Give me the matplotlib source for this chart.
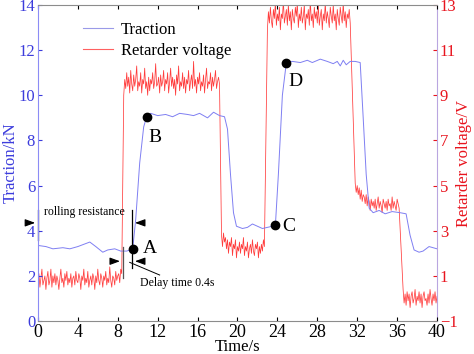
import numpy as np
import matplotlib
matplotlib.use("Agg")
import matplotlib.pyplot as plt
from matplotlib.lines import Line2D

plt.rcParams['font.family'] = ['Liberation Serif', 'DejaVu Serif']

# ---- traction (left axis, kN) ----
trac_t = [0, 0.8, 1.5, 2.5, 3.2, 4.0, 4.6, 5.2, 5.8, 6.5, 7.0, 7.7, 8.3, 8.9, 9.5,
          9.8, 10.2, 10.6, 10.9, 11.3, 12.0, 12.8, 13.5, 14.2, 15.0, 15.6, 16.2, 17.0,
          17.6, 18.2, 18.7, 19.0, 19.3, 19.6, 19.9, 20.5, 21.0, 21.5, 22.0, 22.5, 23.0,
          23.5, 23.8, 24.1, 24.5, 24.9, 25.5, 26.3, 27.0, 27.5, 28.3, 29.0, 29.6, 30.0,
          30.3, 30.6, 30.9, 31.3, 31.8, 32.3, 32.6, 32.9, 33.2, 33.6, 34.2, 34.8, 35.5,
          36.3, 36.9, 37.3, 37.7, 38.2, 38.6, 39.2, 39.6, 40.0]
trac_v = [3.35, 3.3, 3.2, 3.25, 3.2, 3.3, 3.4, 3.5, 3.3, 3.05, 3.15, 3.2, 3.1, 3.1, 3.2,
          4.5, 7.0, 8.6, 9.05, 9.2, 9.1, 9.15, 9.05, 9.2, 9.15, 9.1, 9.2, 9.0,
          9.25, 9.1, 9.05, 8.5, 6.5, 4.8, 4.2, 4.1, 4.15, 4.3, 4.2, 4.1, 4.15,
          4.2, 4.25, 6.5, 10.0, 11.45, 11.5, 11.45, 11.55, 11.45, 11.6, 11.5, 11.4, 11.5,
          11.3, 11.55, 11.35, 11.5, 11.5, 11.45, 9.0, 6.5, 5.0, 4.8, 4.9, 4.75, 4.85,
          4.8, 4.75, 3.8, 3.15, 3.05, 3.1, 3.3, 3.25, 3.2]

# ---- retarder voltage (right axis, V), segments (start, end, values) ----
red_seg1 = (0.0, 8.4, [0.7, 1.1, 0.5, 0.9, 1.3, 0.6, 0.8, 1.0, 0.4, 0.9,
                       1.2, 0.6, 0.8, 1.3, 0.5, 1.0, 0.7, 1.1, 0.6, 1.0,
                       0.8, 0.4, 0.9, 1.3, 0.7, 0.9, 0.5, 1.1, 0.8, 1.2,
                       0.6, 0.9, 0.7, 1.1, 0.5, 0.9, 1.0, 0.6, 1.2, 0.8,
                       0.7, 1.1, 0.9, 0.4, 1.0, 0.8, 1.3, 0.6, 0.9, 0.7,
                       1.2, 0.5, 0.8, 1.0, 0.6, 1.1, 0.9, 0.4, 1.0, 0.7,
                       1.3, 0.8, 0.6, 1.1, 0.9, 0.5, 1.0, 0.8, 1.2, 0.6,
                       0.9, 0.7, 1.4, 0.8, 0.5, 1.0, 0.9, 0.6, 1.2, 0.8,
                       1.0, 1.1, 0.7, 1.3, 1.1])
red_seg2 = (8.6, 18.2, [9.0, 9.7, 9.3, 10.0, 9.4, 9.8, 9.1, 10.1, 9.5, 9.2,
                        9.9, 9.4, 9.7, 10.3, 9.2, 9.6, 9.4, 10.0, 9.1, 9.7,
                        9.5, 10.2, 9.3, 9.6, 9.0, 9.8, 9.2, 9.7, 9.5, 10.0,
                        9.3, 9.6, 10.4, 9.4, 9.5, 9.8, 9.1, 9.9, 9.4, 9.6,
                        10.1, 9.2, 9.7, 9.5, 10.0, 9.1, 9.6, 10.2, 9.4, 9.8,
                        9.3, 9.7, 9.0, 9.9, 9.5, 10.3, 9.2, 9.6, 9.4, 10.0,
                        9.3, 9.8, 9.1, 9.7, 9.5, 10.1, 9.2, 9.6, 9.9, 9.3,
                        10.5, 9.4, 9.7, 9.1, 9.8, 9.5, 10.0, 9.2, 9.6, 9.4,
                        9.9, 9.1, 9.7, 10.2, 9.3, 9.6, 9.5, 10.0, 9.2, 9.8,
                        9.4, 9.7, 10.1, 9.3, 9.6, 9.8, 9.5])
red_seg3 = (18.4, 22.7, [2.8, 2.3, 2.9, 2.5, 2.7, 2.2, 2.6, 2.0, 2.5, 2.3,
                         2.7, 1.9, 2.4, 2.2, 2.6, 1.8, 2.3, 2.1, 2.5, 2.0,
                         2.4, 2.2, 2.7, 1.9, 2.3, 2.1, 2.5, 1.8, 2.2, 2.4,
                         2.0, 2.6, 2.1, 1.9, 2.4, 2.2, 2.5, 1.8, 2.3, 2.0,
                         2.4, 2.1, 2.6, 2.3])
red_seg4 = (23.0, 31.3, [11.9, 12.7, 12.2, 12.9, 12.3, 12.0, 12.8, 12.4, 13.1, 12.1,
                         12.6, 12.3, 12.9, 11.9, 12.6, 12.4, 13.2, 12.2, 12.5, 12.8,
                         12.1, 13.0, 12.3, 12.7, 11.9, 12.8, 12.4, 12.2, 12.9, 12.5,
                         13.1, 12.0, 12.6, 12.3, 12.9, 12.2, 12.5, 13.0, 11.9, 12.6,
                         12.4, 12.8, 12.1, 13.2, 12.3, 12.6, 12.0, 12.9, 12.4, 12.7,
                         12.2, 13.0, 12.1, 12.5, 12.8, 11.9, 12.6, 12.3, 13.1, 12.2,
                         12.7, 12.4, 12.0, 12.9, 12.5, 12.2, 13.0, 12.3, 12.6, 11.9,
                         12.8, 12.4, 12.1, 12.9, 12.5, 12.2, 13.1, 12.3, 12.7, 12.0,
                         12.6, 12.4, 12.8, 12.2])
red_seg5 = (31.8, 36.2, [5.1, 4.7, 5.0, 4.6, 4.9, 4.4, 4.8, 4.3, 4.6, 4.5,
                         4.2, 4.6, 4.1, 4.5, 4.3, 3.9, 4.4, 4.1, 4.3, 4.0,
                         4.4, 3.9, 4.2, 4.5, 4.0, 4.3, 4.1, 3.8, 4.4, 4.2,
                         4.0, 4.3, 3.9, 4.4, 4.1, 4.2, 3.9, 4.5, 4.0, 4.3,
                         4.1, 3.9, 4.4, 4.2, 4.0])
red_seg6 = (36.6, 40.0, [0.4, -0.2, 0.2, -0.3, 0.3, -0.1, 0.2, -0.4, 0.1, 0.3,
                         -0.2, 0.0, 0.4, -0.3, 0.1, -0.1, 0.3, -0.2, 0.2, -0.4,
                         0.1, 0.3, -0.1, 0.0, -0.3, 0.2, -0.2, 0.4, 0.0, -0.3,
                         0.2, -0.1, 0.3, -0.2, 0.1])
red_segments = [red_seg1, red_seg2, red_seg3, red_seg4, red_seg5, red_seg6]

red_t = np.concatenate([np.linspace(a, b, len(v)) for a, b, v in red_segments])
red_v = np.concatenate([v for a, b, v in red_segments])

# marked points on traction curve
pt_labels = ['A', 'B', 'C', 'D']
pt_t = [9.5, 10.9, 23.8, 24.9]
pt_v = [3.2, 9.05, 4.25, 11.45]
pt_text_pos = [(10.5, 3.2, 'left'), (11.7, 8.15, 'center'),
               (25.1, 4.2, 'center'), (25.8, 10.6, 'center')]

blue = '#3c3cdc'
red = '#e8141e'
blue_line = '#7f7ff2'
red_line = '#ff3c3c'

fig = plt.figure(figsize=(4.74, 3.54), dpi=100)
ax = fig.add_axes([0.080, 0.093, 0.842, 0.893])
ax2 = ax.twinx()

ax2.plot(red_t, red_v, color=red_line, lw=0.55)
ax.plot(trac_t, trac_v, color=blue_line, lw=0.7)
ax.plot(pt_t, pt_v, 'o', color='k', ms=6)

ax.set_zorder(ax2.get_zorder() + 1)
ax.patch.set_visible(False)

ax.set_xlim(0, 40)
ax.set_ylim(0, 14)
ax2.set_ylim(-1, 13)
ax.set_xticks(np.arange(0, 41, 4))
ax.set_yticks(np.arange(0, 15, 2))
ax2.set_yticks(np.arange(-1, 14, 2))

ax.tick_params(axis='x', direction='in', length=3, top=True, labelsize=13, pad=2)
ax.tick_params(axis='y', direction='in', length=3, colors=blue, labelsize=12, pad=2)
ax2.tick_params(axis='y', direction='in', length=3, colors=red, labelsize=12, pad=2)

ax.spines['left'].set_color('#8c8cf5')
ax.spines['right'].set_visible(False)
ax.spines['top'].set_color('#8c8c8c')
ax.spines['bottom'].set_color('#8c8c8c')
ax2.spines['right'].set_color('#b9a6e0')
for s in ['left', 'top', 'bottom']:
    ax2.spines[s].set_visible(False)

ax.set_xlabel('Time/s', fontsize=12, labelpad=-1)
ax.set_ylabel('Traction/kN', color=blue, fontsize=12, labelpad=0)
ax2.set_ylabel('Retarder voltage/V', color=red, fontsize=12, labelpad=-1)

handles = [Line2D([], [], color='#9a9ae8', lw=0.8), Line2D([], [], color='#ff6060', lw=0.8)]
ax.legend(handles, ['Traction', 'Retarder voltage'], loc='upper left',
          bbox_to_anchor=(0.075, 0.995), frameon=False, fontsize=12,
          handlelength=1.8, handletextpad=0.5, labelspacing=0.3)

# point labels
for lab, (x, y, ha) in zip(pt_labels, pt_text_pos):
    ax.text(x, y, lab, fontsize=14, va='center', ha=ha)

# rolling resistance / delay annotations
arrow = dict(arrowstyle='-|>,head_length=0.6,head_width=0.22', color='k', lw=0.8)
ax.plot([0, 0], [3.6, 4.9], color='k', lw=0.9, clip_on=False)
ax.plot([9.45, 9.45], [2.35, 4.9], color='k', lw=0.9)
ax.plot([8.5, 8.5], [1.9, 3.3], color='#555555', lw=0.9)
ax.annotate('', xy=(0, 4.35), xytext=(-1.5, 4.35), arrowprops=arrow, annotation_clip=False)
ax.annotate('', xy=(9.45, 4.35), xytext=(10.9, 4.35), arrowprops=arrow)
ax.annotate('', xy=(8.5, 2.65), xytext=(7.0, 2.65), arrowprops=arrow)
ax.annotate('', xy=(9.45, 2.65), xytext=(10.9, 2.65), arrowprops=arrow)
ax.plot([9.2, 12.2], [2.6, 2.04], color='k', lw=0.7)
ax.text(4.7, 4.85, 'rolling resistance', fontsize=8.5, ha='center', va='center')
ax.text(10.2, 1.68, 'Delay time 0.4s', fontsize=8.5, ha='left', va='center')

fig.savefig('out.png', dpi=100)
